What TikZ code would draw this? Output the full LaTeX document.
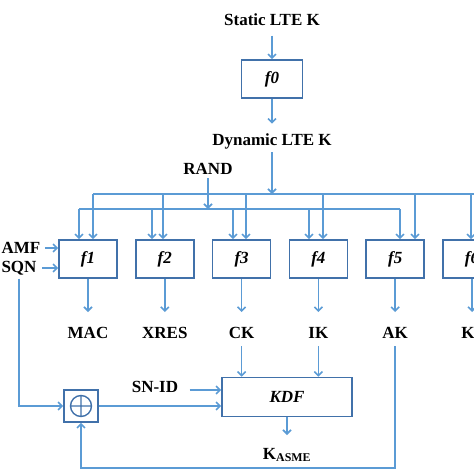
\documentclass[tikz,border=0pt]{standalone}
\usepackage{fontspec}
\setmainfont{Liberation Serif}
\usetikzlibrary{positioning,arrows.meta}
\definecolor{lineblue}{RGB}{91,155,213}
\definecolor{boxblue}{RGB}{65,113,170}
\newcommand\dfont{\fontsize{17}{20}\selectfont\bfseries}
\tikzset{
  blk/.style={draw=boxblue,line width=1.6pt,minimum width=58pt,minimum height=38pt,font=\dfont\itshape},
  lbl/.style={font=\dfont},
  arr/.style={-{Straight Barb[length=4pt,width=8pt]},draw=lineblue,line width=1.6pt},
  bus/.style={draw=lineblue,line width=1.6pt}
}
\begin{document}
\begin{tikzpicture}[x=1pt,y=-1pt,node distance=76.8pt]
\useasboundingbox (0,0) rectangle (474,474);
\clip (0,0) rectangle (474,474);
% key derivation at the top
\node[lbl] (st) at (272,20) {Static LTE K};
\node[blk,minimum width=61pt] (f0) [below of=st,node distance=59pt] {f0};
\node[lbl] (dyn) [below of=f0,node distance=62pt] {Dynamic LTE K};
\node[lbl] (rand) at (208,169) {RAND};
\draw[arr,shorten <=6pt] (st) -- (f0);
\draw[arr,shorten >=6pt] (f0) -- (dyn);
% the functions
\node[blk] (f1) at (88,259) {f1};
\node[blk] (f2) [right of=f1] {f2};
\node[blk] (f3) [right of=f2] {f3};
\node[blk] (f4) [right of=f3] {f4};
\node[blk] (f5) [right of=f4] {f5};
\node[blk] (f6) [right of=f5] {f6};
% buses
\draw[arr] (dyn) -- (dyn |- 0,194);
\draw[arr] (rand) -- (rand |- 0,209);
\draw[bus] (93,194) -- (480,194);
\draw[bus] (79,209) -- (400,209);
\foreach \b/\rx/\kx in {f1/79/93,f2/152/163,f3/233/246,f4/309/323,f5/400/415}{
  \draw[arr] (\rx,209) -- (\rx,0 |- \b.north);
  \draw[arr] (\kx,194) -- (\kx,0 |- \b.north);
}
\draw[arr] (471,194) -- (471,0 |- f6.north);
% inputs on the left
\node[lbl] (amf) at (21,248) {AMF};
\node[lbl] (sqn) at (19,268) {SQN};
\draw[arr,shorten <=1pt] (amf.east) -- (amf.east -| f1.west);
\draw[arr,shorten <=2pt] (sqn.east) -- (sqn.east -| f1.west);
% outputs
\node[lbl] (mac) [below of=f1,node distance=74pt] {MAC};
\node[lbl] (xres) [below of=f2,node distance=74pt] {XRES};
\node[lbl] (ck) [below of=f3,node distance=74pt] {CK};
\node[lbl] (ik) [below of=f4,node distance=74pt] {IK};
\node[lbl] (ak) [below of=f5,node distance=74pt] {AK};
\node[lbl] (kx) [below of=f6,node distance=74pt,xshift=-4pt] {K};
\foreach \b in {f1,f2,f3,f4,f5,f6}
  \draw[arr] (\b) -- (\b |- 0,312);
% KDF part
\node[blk,minimum width=130pt,minimum height=39pt] (kdf) at (287,397) {KDF};
\node[draw=boxblue,line width=1.6pt,minimum width=34pt,minimum height=32pt] (xr) at (81,406) {};
\draw[boxblue,line width=1.4pt] (xr.center) circle (10.5pt)
  (xr.center) ++(-10.5,0) -- ++(21,0) (xr.center) ++(0,-10.5) -- ++(0,21);
\node[lbl] (snid) at (155,387) {SN-ID};
\node[lbl] (kasme) [below of=kdf,node distance=58pt] {K\textsubscript{ASME}};
\draw[arr,shorten <=4pt] (ck) -- (ck |- kdf.north);
\draw[arr,shorten <=4pt] (ik) -- (ik |- kdf.north);
\draw[arr,shorten <=8pt] ([yshift=-3pt]snid.east) -- ([yshift=-3pt]snid.east -| kdf.west);
\draw[arr] (xr) -- (xr -| kdf.west);
\draw[arr] (kdf) -- (kdf |- 0,435);
\draw[arr] (sqn) |- (xr);
\draw[arr,shorten <=4pt] (ak) -- (ak |- 0,468) -| (xr);
\end{tikzpicture}
\end{document}
